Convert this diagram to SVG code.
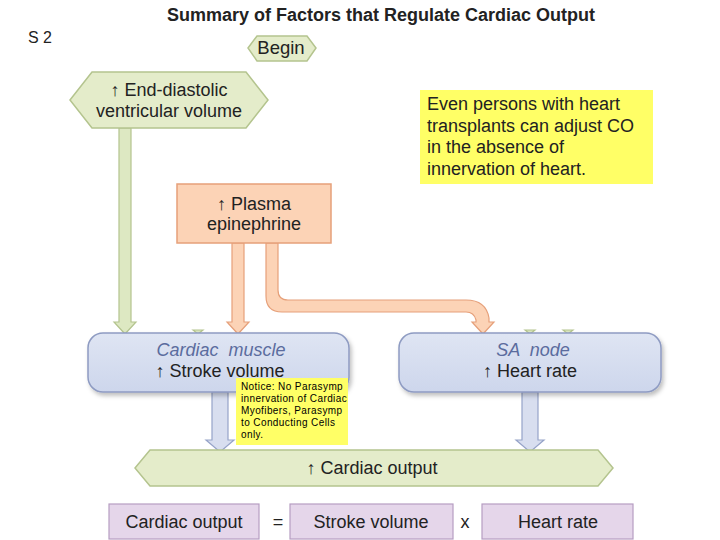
<svg xmlns="http://www.w3.org/2000/svg" width="720" height="540" viewBox="0 0 720 540">
<defs>
<linearGradient id="blueg" x1="0" y1="0" x2="0" y2="1">
<stop offset="0" stop-color="#dfe5f3"/><stop offset="1" stop-color="#cdd6ec"/>
</linearGradient>
<filter id="sh" x="-10%" y="-10%" width="130%" height="140%">
<feDropShadow dx="2" dy="3" stdDeviation="2" flood-color="#000" flood-opacity="0.25"/>
</filter>
<style>
.t{font-family:"Liberation Sans",Arial,sans-serif;fill:#222;font-size:18px;}
.hex{fill:#e4ecca;stroke:#b4c48e;stroke-width:1.5;}
.blue{fill:url(#blueg);stroke:#8e9bc2;stroke-width:1.5;filter:url(#sh);}
.purp{fill:#e5d6ea;stroke:#b69dc2;stroke-width:1.2;}
.yel{fill:#ffff66;}
.it{font-style:italic;fill:#5b6c9e;white-space:pre;}
.sm{font-size:10px;letter-spacing:0.4px;fill:#000;}
.garr{fill:#dde8c2;stroke:#b4c48e;stroke-width:1.2;}
.oarr{fill:#fcd3b6;stroke:#e6a07a;stroke-width:1.2;}
.barr{fill:#d8deef;stroke:#96a3c8;stroke-width:1.2;}
</style>
</defs>
<text class="t" x="167" y="21" font-size="17.5" font-weight="bold" fill="#000" textLength="428" lengthAdjust="spacingAndGlyphs" style="font-size:17.5px">Summary of Factors that Regulate Cardiac Output</text>
<text class="t" x="28" y="43" style="font-size:16px" fill="#000">S 2</text>

<g id="connectors">
<path class="garr" d="M119,128 V322 H114 L125,334 L136,322 H131 V128 Z"/>
<path class="oarr" d="M232,243 V322 H227 L238,334 L249,322 H244 V243 Z"/>
<path class="oarr" d="M266,243 V296 Q266,312 282,312 H466 Q474,312 476,320 V322 H472 L483,334 L494,322 H489 V318 Q486,300 466,300 H288 Q278,300 278,290 V243 Z"/>
<path class="garr" d="M193,330 L198,334 L203,330 Z"/>
<path class="garr" d="M525,330 L530,334 L535,330 Z"/>
<path class="garr" d="M563,330 L568,334 L573,330 Z"/>
<path class="barr" d="M212,392 V440 H206 L220,452 L234,440 H228 V392 Z"/>
<path class="barr" d="M522,392 V440 H516 L530,452 L544,440 H538 V392 Z"/>
</g>

<g id="begin">
<polygon class="hex" points="248,48 257,36 307,36 316,48 307,61 257,61"/>
<text class="t" x="281" y="54" text-anchor="middle" fill="#333" style="font-size:18.5px">Begin</text>
</g>

<g id="edv">
<polygon class="hex" points="70,100 92,72 246,72 268,100 246,128 92,128"/>
<text class="t" x="169" y="96" text-anchor="middle">↑ End-diastolic</text>
<text class="t" x="169" y="117" text-anchor="middle">ventricular volume</text>
</g>

<g id="note1">
<rect class="yel" x="420" y="90" width="233" height="94"/>
<text class="t" x="427" y="110" fill="#000">Even persons with heart</text>
<text class="t" x="427" y="132" fill="#000">transplants can adjust CO</text>
<text class="t" x="427" y="153" fill="#000">in the absence of</text>
<text class="t" x="427" y="175" fill="#000">innervation of heart.</text>
</g>

<g id="epi">
<rect x="177" y="184" width="154" height="59" fill="#fcd3b6" stroke="#e6a07a" stroke-width="1.5"/>
<text class="t" x="254" y="210" text-anchor="middle">↑ Plasma</text>
<text class="t" x="254" y="230" text-anchor="middle">epinephrine</text>
</g>

<g id="muscle">
<rect class="blue" x="88" y="333" width="261" height="59" rx="15"/>
<text class="t it" x="221" y="356" text-anchor="middle">Cardiac  muscle</text>
<text class="t" x="220" y="377" text-anchor="middle">↑ Stroke volume</text>
</g>

<g id="sanode">
<rect class="blue" x="399" y="333" width="262" height="59" rx="15"/>
<text class="t it" x="533" y="356" text-anchor="middle">SA  node</text>
<text class="t" x="530" y="377" text-anchor="middle">↑ Heart rate</text>
</g>

<g id="note2">
<rect class="yel" x="236" y="378" width="112" height="67"/>
<text class="t sm" x="241" y="390">Notice: No Parasymp</text>
<text class="t sm" x="241" y="402">innervation of Cardiac</text>
<text class="t sm" x="241" y="414">Myofibers, Parasymp</text>
<text class="t sm" x="241" y="426">to Conducting Cells</text>
<text class="t sm" x="241" y="438">only.</text>
</g>

<g id="co">
<polygon class="hex" points="135,468 150,450 598,450 613,468 598,486 150,486"/>
<text class="t" x="372" y="474" text-anchor="middle">↑ Cardiac output</text>
</g>

<g id="eq">
<rect class="purp" x="109" y="504" width="150" height="35"/>
<text class="t" x="184" y="528" text-anchor="middle" fill="#333">Cardiac output</text>
<text class="t" x="278" y="528" text-anchor="middle" fill="#555">=</text>
<rect class="purp" x="290" y="504" width="163" height="35"/>
<text class="t" x="371" y="528" text-anchor="middle" fill="#333">Stroke volume</text>
<text class="t" x="465" y="528" text-anchor="middle" fill="#555">x</text>
<rect class="purp" x="482" y="504" width="151" height="35"/>
<text class="t" x="558" y="528" text-anchor="middle" fill="#333">Heart rate</text>
</g>
</svg>
